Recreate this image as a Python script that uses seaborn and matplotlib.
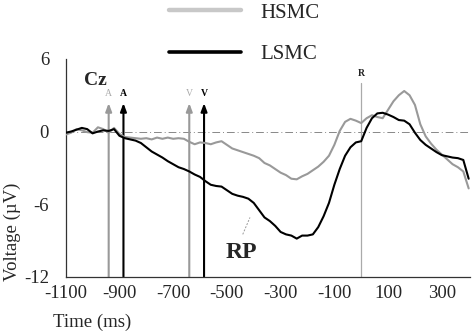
import numpy as np
import pandas as pd
import matplotlib
matplotlib.use("Agg")
import matplotlib.pyplot as plt
from matplotlib.lines import Line2D
import seaborn as sns

# Grand-average ERP at electrode Cz, sampled every 20 ms
time_ms = list(range(-1100, 401, 20))

lsmc_uv = [-0.1, 0.0, 0.15, 0.3, 0.2, -0.15, 0.0, 0.1, 0.05, 0.2,
           -0.35, -0.55, -0.65, -0.75, -0.95, -1.3, -1.65, -1.9, -2.15, -2.45,
           -2.7, -2.95, -3.1, -3.3, -3.55, -3.75, -4.1, -4.4, -4.5, -4.55,
           -4.85, -5.15, -5.3, -5.4, -5.55, -5.9, -6.5, -7.1, -7.4, -7.8,
           -8.3, -8.5, -8.6, -8.85, -8.6, -8.6, -8.5, -7.9, -7.0, -5.9,
           -4.4, -3.1, -2.0, -1.3, -0.9, -0.8, 0.3, 1.1, 1.5, 1.55,
           1.4, 1.2, 0.95, 0.9, 0.6, -0.1, -0.7, -1.1, -1.4, -1.7,
           -1.95, -2.05, -2.15, -2.2, -2.35, -3.9]

hsmc_uv = [-0.25, -0.1, 0.2, 0.1, -0.05, -0.1, 0.35, 0.2, -0.1, 0.3,
           -0.2, -0.45, -0.5, -0.55, -0.6, -0.55, -0.65, -0.5, -0.6, -0.5,
           -0.6, -0.55, -0.6, -0.85, -1.05, -0.9, -0.95, -1.05, -0.9, -0.8,
           -1.1, -1.4, -1.55, -1.7, -1.85, -2.0, -2.2, -2.6, -2.8, -3.1,
           -3.4, -3.6, -3.9, -3.95, -3.7, -3.5, -3.2, -2.9, -2.5, -2.0,
           -1.1, 0.05, 0.8, 1.05, 0.9, 0.7, 1.1, 1.35, 1.2, 1.1,
           1.8, 2.5, 3.0, 3.35, 3.0, 2.2, 0.6, -0.4, -1.0, -1.5,
           -1.9, -2.3, -2.7, -2.95, -3.3, -4.7]

groups = ["HSMC", "LSMC"]

# Event markers (ms): auditory / visual cue onsets per group, and response
cue_times_hsmc = [-940, -640]
cue_times_lsmc = [-885, -585]
cue_labels = ["A", "V"]
response_time = 0

x_tick_values = list(range(-1100, 401, 100))
x_tick_labels = [str(v) if (v // 100) % 2 != 0 else "" for v in x_tick_values]
y_tick_values = [-12, -6, 0, 6]

df = pd.DataFrame({
    "Time (ms)": time_ms * 2,
    "Voltage": hsmc_uv + lsmc_uv,
    "Group": ["HSMC"] * len(time_ms) + ["LSMC"] * len(time_ms),
})

sns.set_theme(style="white")
plt.rcParams["font.family"] = ["Liberation Serif", "DejaVu Serif"]

fig = plt.figure(figsize=(4.74, 3.33), dpi=100)
ax = fig.add_axes([0.1386, 0.169, 0.853, 0.654])

hsmc_col = "#999999"
palette = {"HSMC": hsmc_col, "LSMC": "black"}

# zero reference line
ax.axhline(0, color="#888888", lw=0.7, ls=(0, (8, 3, 1, 3)), zorder=1)

# response marker
ax.plot([response_time, response_time], [-12, 4.0], color="#aaaaaa", lw=0.9, zorder=1)
ax.text(response_time, 4.8, "R", ha="center", va="center", fontsize=7,
        fontweight="bold", color="#222222")

# cue arrows
for times, col, lcol, wt in [(cue_times_hsmc, hsmc_col, "#aaaaaa", "normal"),
                            (cue_times_lsmc, "black", "black", "bold")]:
    for t, lab in zip(times, cue_labels):
        ax.annotate("", xy=(t, 2.35), xytext=(t, -12),
                    arrowprops=dict(arrowstyle="-|>,head_length=0.4,head_width=0.15",
                                    color=col, lw=1.5, shrinkA=0, shrinkB=0),
                    zorder=2)
        ax.text(t, 3.15, lab, ha="center", va="center", fontsize=7,
                fontweight=wt, color=lcol)

sns.lineplot(data=df, x="Time (ms)", y="Voltage", hue="Group",
             palette=palette, hue_order=groups, linewidth=1.5,
             legend=False, ax=ax, zorder=3)

ax.text(-991, 4.25, "Cz", ha="center", va="center", fontsize=14, fontweight="bold")
ax.text(-445, -10.0, "RP", ha="center", va="center", fontsize=17, fontweight="bold")
ax.plot([-441, -414], [-8.5, -7.1], color="#999999", lw=0.7, ls=(0, (2, 1.5)))

ax.set_xlim(-1100, 405)
ax.set_ylim(-12, 6)
ax.set_xticks(x_tick_values)
ax.set_xticklabels(x_tick_labels, fontsize=13.5)
ax.set_yticks(y_tick_values)
ax.set_yticklabels([str(v) for v in y_tick_values], fontsize=13.5)

for s in ["top", "right"]:
    ax.spines[s].set_visible(False)
for s in ["left", "bottom"]:
    ax.spines[s].set_color("#333333")
    ax.spines[s].set_linewidth(0.9)

ax.tick_params(axis="x", direction="inout", length=6, width=0.9, color="#333333", pad=3)
ax.tick_params(axis="y", direction="out", length=4, width=0.9, color="#333333", pad=8)
ax.grid(False)

ax.set_xlabel("Time (ms)", fontsize=13.5, ha="left")
ax.xaxis.set_label_coords(-0.031, -0.208)
ax.xaxis.label.set_va("center")
ax.set_ylabel("Voltage (µV)", fontsize=13.5)
ax.yaxis.set_label_coords(-0.133, 0.205)
ax.yaxis.label.set_va("center")

handles = [Line2D([], [], color="#c8c8c8", lw=3.2),
           Line2D([], [], color="black", lw=2.6)]
fig.legend(handles, groups, loc="upper left", bbox_to_anchor=(169 / 474, 1 - 3 / 333),
           frameon=False, fontsize=15, handlelength=3.45, handletextpad=0.95,
           labelspacing=1.07, borderpad=0, borderaxespad=0)

fig.savefig("out.png", dpi=100)
